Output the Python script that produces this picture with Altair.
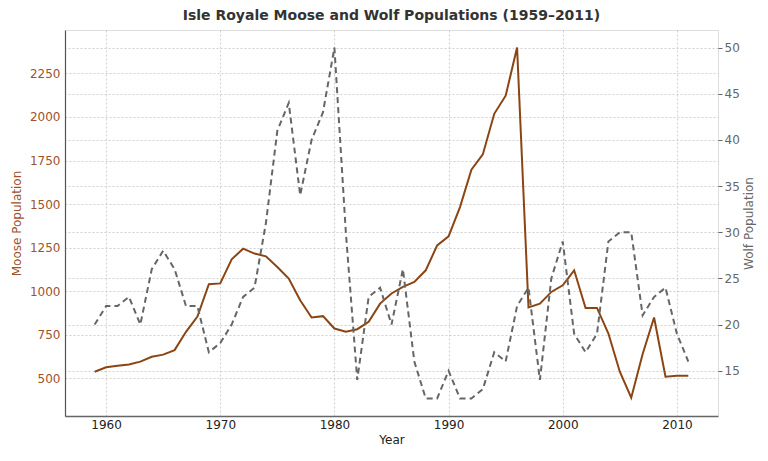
import altair as alt
import pandas as pd

years = list(range(1959, 2012))
moose = [538, 564, 572, 580, 596, 624, 636, 662, 767, 855,
         1040, 1045, 1183, 1244, 1216, 1200, 1139, 1073, 948, 849,
         857, 786, 767, 782, 824, 929, 987, 1025, 1053, 1120,
         1263, 1315, 1483, 1697, 1785, 2018, 2122, 2399, 907, 929,
         996, 1034, 1120, 904, 904, 757, 538, 389, 640, 849,
         509, 515, 515]
wolves = [20, 22, 22, 23, 20, 26, 28, 26, 22, 22,
          17, 18, 20, 23, 24, 31, 41, 44, 34, 40,
          43, 50, 30, 14, 23, 24, 20, 26, 16, 12,
          12, 15, 12, 12, 13, 17, 16, 22, 24, 14,
          25, 29, 19, 17, 19, 29, 30, 30, 21, 23,
          24, 19, 16]
x_ticks = [1960, 1970, 1980, 1990, 2000, 2010]
moose_ticks = [500, 750, 1000, 1250, 1500, 1750, 2000, 2250]
wolf_ticks = [15, 20, 25, 30, 35, 40, 45, 50]

df = pd.DataFrame({"Year": years, "Moose": moose, "Wolf": wolves})

FONT = "DejaVu Sans"
MOOSE_C = "#8B4513"
MOOSE_TXT = "#A0522D"
WOLF_C = "#666666"
GRID = "#c4c4c4"

base = alt.Chart(df).encode(
    x=alt.X("Year:Q",
            scale=alt.Scale(domain=[1956.4, 2013.6], nice=False, zero=False),
            axis=alt.Axis(values=x_ticks, format="d", title="Year",
                          grid=True, gridColor=GRID, gridDash=[2, 2], gridWidth=0.8,
                          ticks=False, labelPadding=3, titlePadding=4,
                          domainColor="#666666", domainWidth=1.6,
                          labelFont=FONT, labelFontSize=12, labelColor="#222222",
                          titleFont=FONT, titleFontSize=12, titleFontWeight="normal",
                          titleColor="#222222"))
)

moose_line = base.mark_line(color=MOOSE_C, strokeWidth=2).encode(
    y=alt.Y("Moose:Q",
            scale=alt.Scale(domain=[284, 2499], nice=False, zero=False),
            axis=alt.Axis(orient="left", values=moose_ticks, format="d",
                          title="Moose Population",
                          grid=True, gridColor=GRID, gridDash=[2, 2], gridWidth=0.8,
                          ticks=False, labelPadding=5, titlePadding=6,
                          domainColor="#555555", domainWidth=1.2,
                          labelFont=FONT, labelFontSize=12, labelColor=MOOSE_TXT,
                          titleFont=FONT, titleFontSize=12, titleFontWeight="normal",
                          titleColor=MOOSE_TXT))
)

wolf_line = base.mark_line(color=WOLF_C, strokeWidth=2, strokeDash=[6, 4]).encode(
    y=alt.Y("Wolf:Q",
            scale=alt.Scale(domain=[10.1, 51.9], nice=False, zero=False),
            axis=alt.Axis(orient="right", values=wolf_ticks, format="d",
                          title="Wolf Population",
                          grid=True, gridColor=GRID, gridDash=[2, 2], gridWidth=0.8,
                          ticks=True, tickSize=4, tickColor="#666666",
                          labelPadding=2, titlePadding=4, domain=False,
                          titleAngle=270, titleBaseline="top",
                          labelFont=FONT, labelFontSize=12, labelColor="#666666",
                          titleFont=FONT, titleFontSize=12, titleFontWeight="normal",
                          titleColor="#666666"))
)

chart = alt.layer(moose_line, wolf_line).resolve_scale(y="independent").properties(
    width=653, height=386,
    title=alt.TitleParams("Isle Royale Moose and Wolf Populations (1959–2011)",
                          font=FONT, fontSize=14, fontWeight="bold", color="#333333",
                          anchor="middle", offset=7),
    autosize="none",
    padding={"left": 65, "top": 30, "right": 50, "bottom": 45},
).configure_view(stroke=None).configure(background="white")

chart.save("out.html", embed_options={"renderer": "svg", "actions": False})
